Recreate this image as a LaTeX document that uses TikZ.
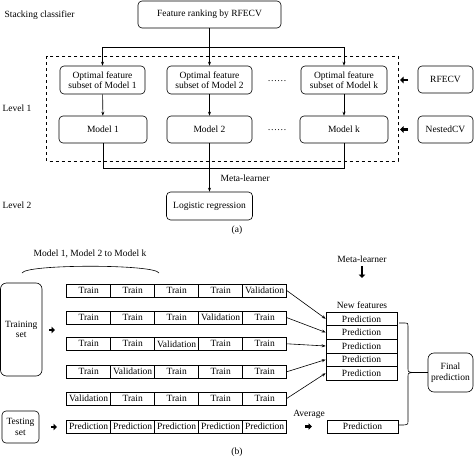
\documentclass[tikz,border=0pt]{standalone}
\usepackage{fontspec}
\setmainfont{Liberation Serif}
\usetikzlibrary{arrows.meta}

\tikzset{
   box/.style={draw,rounded corners=4pt,align=center,inner sep=1pt},
   cell/.style={draw,minimum width=44pt,minimum height=13pt,inner sep=0pt},
   pcell/.style={draw,minimum width=71pt,minimum height=13.6pt,inner sep=0pt},
   fat/.style={line width=2.4pt,-{Triangle[length=3.5pt,width=6.5pt]}},
   link/.style={-{Stealth[length=4pt,width=3pt]}},
}

\begin{document}
\begin{tikzpicture}[x=1pt,y=-1pt,line width=.6pt,font=\fontsize{9.5}{10.5}\selectfont]

   \useasboundingbox (0,0) rectangle (474,463);

   % (a) stacking classifier
   \node[anchor=west] (stack) at (1,15) {Stacking classifier};
   \node[box,minimum width=143pt,minimum height=27pt] (feat) at (209.5,14.5) {Feature ranking by RFECV};

   \draw[dashed] (46.7,56) rectangle (398,161);

   \node[box,minimum width=85pt,minimum height=28pt] (opt1) at (102.5,80) {Optimal feature\\subset of Model 1};
   \node[box,minimum width=85pt,minimum height=28pt] (opt2) at (209.5,80) {Optimal feature\\subset of Model 2};
   \node[box,minimum width=86pt,minimum height=28pt] (optk) at (344,80) {Optimal feature\\subset of Model k};
   \node (dots1) at (277,81) {\dots\dots};

   \node[box,minimum width=88pt,minimum height=27pt] (mod1) at (103,129.5) {Model 1};
   \node[box,minimum width=85pt,minimum height=27pt] (mod2) at (209.5,129.5) {Model 2};
   \node[box,minimum width=88pt,minimum height=27pt] (modk) at (344,129.5) {Model k};
   \node (dots2) at (277,130) {\dots\dots};

   \node[box,minimum width=55pt,minimum height=27pt] (rfecv) at (445.5,79.5) {RFECV};
   \node[box,minimum width=55pt,minimum height=27pt] (nested) at (445.5,129.5) {NestedCV};
   \coordinate (a1) at (408,80);
   \coordinate (a2) at (408,129.5);
   \draw[fat] (a1) -- ++(-8,0);
   \draw[fat] (a2) -- ++(-8,0);

   \node[anchor=west] (lev1) at (-1,108) {Level 1};
   \node[anchor=west] (lev2) at (-1,205) {Level 2};

   \coordinate (fork) at (209.5,47.7);
   \draw (feat) -- (fork);
   \draw[link] (fork) -| (opt1.north);
   \draw[link] (fork) -- (opt2.north);
   \draw[link] (fork) -| (optk.north);

   \draw[link] (opt1) -- (mod1);
   \draw[link] (opt2) -- (mod2);
   \draw[link] (optk) -- (modk);

   \node[box,minimum width=86pt,minimum height=28pt] (logit) at (209.5,206) {Logistic regression};
   \coordinate (join) at (209.5,168);
   \draw (mod1) |- (join);
   \draw (modk) |- (join);
   \draw (mod2) -- (join);
   \draw[link] (join) -- (logit);
   \node[anchor=west] (meta1) at (217,178) {Meta-learner};

   \node (capa) at (237,230) {(a)};

   % (b) cross validation
   \node (models) at (90,254) {Model 1, Model 2 to Model k};
   \draw (22,273) .. controls (26,264) and (155,264) .. (159,273);

   \node (meta2) at (362,259) {Meta-learner};
   \draw[fat] (362,266) -- (362,278);

   \node[box,minimum width=41.5pt,minimum height=93pt,rounded corners=6pt] (train) at (21.25,329.5) {Training\\set};
   \node[box,minimum width=37pt,minimum height=32pt] (test) at (20.5,427) {Testing\\set};
   \draw[fat] (49,330) -- ++(6,0);
   \draw[fat] (51,427) -- ++(6,0);

   \foreach \r/\v/\y in {1/5/290.7,2/4/317.7,3/3/343.8,4/2/371.7,5/1/398.3} {
      \foreach \j in {1,...,5} {
         \ifnum\j=\v \def\txt{Validation}\else\def\txt{Train}\fi
         \node[cell] (r\r c\j) at (44.7+44*\j,\y) {\txt};
      }
   }
   \foreach \j in {1,...,5} {
      \node[cell] (t\j) at (44.7+44*\j,426.7) {Prediction};
   }

   \node (newf) at (362,305) {New features};
   \foreach \i in {1,...,5} {
      \node[pcell] (p\i) at (361.5,305.2+13.6*\i) {Prediction};
   }
   \foreach \i in {1,...,5} {
      \draw[link] (r\i c5.east) -- (p\i.west);
   }

   \node (avg) at (309,414) {Average};
   \draw[fat] (305,426.5) -- ++(7,0);
   \node[draw,minimum width=71pt,minimum height=13pt,inner sep=0pt] (ptest) at (362.5,426.5) {Prediction};

   \node[box,minimum width=45pt,minimum height=39pt,rounded corners=6pt] (final) at (450.5,372.5) {Final\\prediction};
   \draw (399,323) -- (405,323) .. controls (408,323) .. (408,326) -- (408,368)
      .. controls (408,372) .. (413,372.5) .. controls (408,373) .. (408,377) -- (408,421)
      .. controls (408,425) .. (399,425);
   \draw (413,372.5) -- (final.west);

   \node (capb) at (237,452) {(b)};

\end{tikzpicture}
\end{document}
